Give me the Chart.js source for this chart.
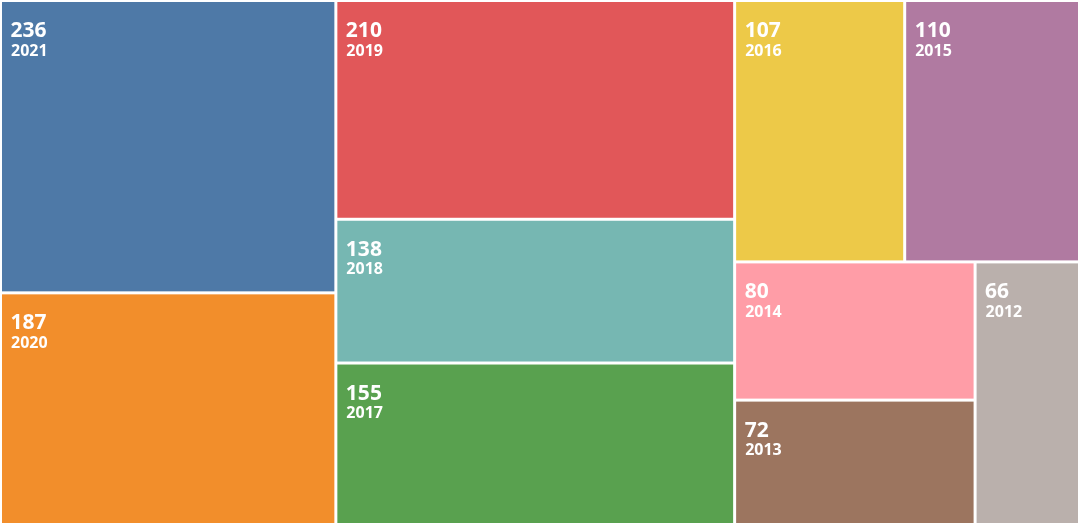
<!DOCTYPE html>
<html>
<head>
<meta charset="utf-8">
<script src="https://cdn.jsdelivr.net/npm/chart.js@4.4.1/dist/chart.umd.min.js"></script>
<style>
  html, body { margin: 0; padding: 0; background: #fff; }
  #wrap { width: 1080px; height: 525px; position: relative; }
</style>
</head>
<body>
<div id="wrap"><canvas id="treemapChart"></canvas></div>
<script>
// Données du treemap (ordre conservé)
const years = ['2021', '2020', '2019', '2018', '2017', '2016', '2015', '2014', '2013', '2012'];
const values = [236, 187, 210, 138, 155, 107, 110, 80, 72, 66];
const colors = ['#4e79a7', '#f28e2b', '#e15759', '#76b7b2', '#59a14f', '#edc948', '#b07aa1', '#ff9da7', '#9c755f', '#bab0ac'];

// Squarify (ratio nombre d'or), garde l'ordre des données
function squarify(vals, x0, y0, x1, y1) {
  const ratio = (1 + Math.sqrt(5)) / 2;
  const out = [];
  let value = vals.reduce((a, b) => a + b, 0);
  let i0 = 0, i1 = 0;
  const n = vals.length;
  while (i0 < n) {
    const dx = x1 - x0, dy = y1 - y0;
    let sum = vals[i1++];
    let minV = sum, maxV = sum;
    const alpha = Math.max(dy / dx, dx / dy) / (value * ratio);
    let beta = sum * sum * alpha;
    let minRatio = Math.max(maxV / beta, beta / minV);
    for (; i1 < n; ++i1) {
      const v = vals[i1];
      sum += v;
      if (v < minV) minV = v;
      if (v > maxV) maxV = v;
      beta = sum * sum * alpha;
      const r = Math.max(maxV / beta, beta / minV);
      if (r > minRatio) { sum -= v; break; }
      minRatio = r;
    }
    const dice = dx < dy;
    if (dice) {
      const yb = y0 + dy * sum / value;
      let x = x0;
      for (let k = i0; k < i1; k++) {
        const w = (x1 - x0) * vals[k] / sum;
        out[k] = { x0: x, y0: y0, x1: x + w, y1: yb };
        x += w;
      }
      y0 = yb;
    } else {
      const xb = x0 + dx * sum / value;
      let y = y0;
      for (let k = i0; k < i1; k++) {
        const h = (y1 - y0) * vals[k] / sum;
        out[k] = { x0: x0, y0: y, x1: xb, y1: y + h };
        y += h;
      }
      x0 = xb;
    }
    value -= sum;
    i0 = i1;
  }
  return out;
}

const treemapPlugin = {
  id: 'treemap',
  afterDatasetsDraw(chart) {
    const { ctx, chartArea, scales } = chart;
    const W = chartArea.right - chartArea.left;
    const H = chartArea.bottom - chartArea.top;
    const cells = squarify(values, 0, 0, W, H);
    const gap = 1.5;
    ctx.save();
    cells.forEach((c, i) => {
      const left = scales.x.getPixelForValue(c.x0 / W) + gap;
      const right = scales.x.getPixelForValue(c.x1 / W) - gap;
      const top = scales.y.getPixelForValue(c.y0 / H) + gap;
      const bottom = scales.y.getPixelForValue(c.y1 / H) - gap;
      ctx.fillStyle = colors[i];
      ctx.fillRect(left, top, right - left, bottom - top);
      ctx.fillStyle = '#ffffff';
      ctx.textAlign = 'left';
      ctx.textBaseline = 'alphabetic';
      ctx.font = 'bold 21px "Noto Sans"';
      ctx.fillText(String(values[i]), left + 8.5, top + 35);
      ctx.font = 'bold 16px "Noto Sans"';
      ctx.fillText(years[i], left + 9, top + 53.5);
    });
    ctx.restore();
  }
};

const treemapCtx = document.getElementById('treemapChart').getContext('2d');
const treemapChart = new Chart(treemapCtx, {
  type: 'scatter',
  data: {
    datasets: [{ data: [] }]
  },
  options: {
    responsive: true,
    maintainAspectRatio: false,
    animation: false,
    layout: { padding: 0.5 },
    scales: {
      x: { type: 'linear', min: 0, max: 1, display: false },
      y: { type: 'linear', min: 0, max: 1, reverse: true, display: false }
    },
    plugins: {
      legend: { display: false },
      tooltip: { enabled: false }
    }
  },
  plugins: [treemapPlugin]
});
</script>
</body>
</html>
